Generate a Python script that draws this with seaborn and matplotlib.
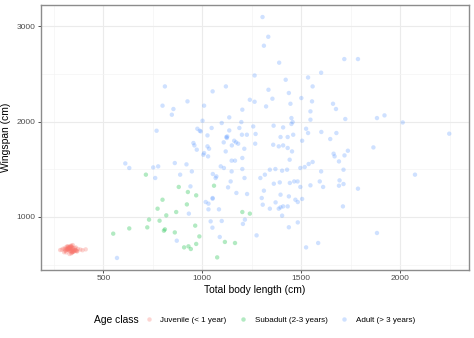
import numpy as np
import pandas as pd
import matplotlib
matplotlib.use("Agg")
import matplotlib.pyplot as plt
from matplotlib.lines import Line2D
from matplotlib.ticker import MultipleLocator
import seaborn as sns

# Age classes and their colours
classes = ["Juvenile (< 1 year)", "Subadult (2-3 years)", "Adult (> 3 years)"]
class_colors = ["#F8766D", "#00BA38", "#619CFF"]

# Juveniles: total body length (cm) and wingspan (cm)
juv_length = [335, 312, 348, 327, 361, 340, 298, 322, 355, 331, 344, 318, 372, 306, 337,
              350, 325, 341, 290, 366, 333, 314, 347, 328, 358, 339, 302, 321, 384, 336,
              343, 317, 352, 329, 309, 363, 338, 324, 346, 282, 331, 356, 320, 341, 395,
              313, 334, 349, 327, 368, 305, 339, 323, 345, 332, 316, 360, 337, 411, 329]
juv_wingspan = [662, 648, 671, 655, 680, 640, 668, 690, 652, 675, 633, 659, 664, 645, 686,
                650, 670, 625, 657, 642, 695, 661, 638, 677, 654, 666, 630, 683, 658, 644,
                672, 692, 636, 663, 679, 649, 618, 667, 705, 653, 641, 674, 660, 688, 651,
                628, 669, 646, 684, 639, 663, 700, 656, 632, 676, 665, 647, 687, 660, 612]

# Subadults
sub_length = [715, 881, 927, 969, 799, 922, 774, 868, 818, 731, 784, 550, 631, 722, 811,
              806, 861, 964, 985, 969, 908, 930, 942, 1059, 1202, 1240, 1114, 1165, 1075]
sub_wingspan = [1444, 1315, 1262, 1227, 1181, 1132, 1087, 1052, 1017, 972, 961, 825, 880, 891, 870,
                856, 838, 909, 796, 717, 681, 692, 664, 1328, 1052, 1035, 738, 727, 576]

# Adults
adult_length = [
    769, 955, 960, 972, 1005, 611, 631, 752, 777, 861, 920, 762, 888, 947, 940, 932, 871, 569,
    1017, 1031, 1031, 1084, 1052, 1042, 1098, 1051, 1088,
    1304, 1333, 1311, 1388, 1264, 1119, 1052, 1334, 1421, 1437, 1354, 1445, 1009, 1240, 1264,
    1322, 1202, 1136, 1001, 1098, 1197, 1257, 1360, 1408, 1450, 1456, 1047, 1136, 1187, 1200,
    1225, 1269, 1026, 1121, 1395, 1431, 1459, 992,
    1026, 1009, 1029, 1108, 1124, 1161, 1170, 1149, 1212, 1267, 1202, 1148, 1165, 1358, 1386,
    1408, 1431, 1441, 1093, 1109, 1202, 1148, 1053, 1071, 1067, 1213, 1143, 1130, 1293, 1316,
    1341, 1369, 1403, 1428, 1361, 1391, 1442, 1311, 1395, 1437, 1172, 1226, 1052, 1300, 1305,
    1370, 1431, 1341, 1386, 1395, 1408, 1403, 1215, 1205, 1437, 1274,
    1717, 1786, 1600, 1534, 1557, 1500, 1554, 1660, 1675, 1546, 1546, 1722, 1882, 1920, 1450,
    1524, 1534, 1601, 1646, 1677,
    1504, 1453, 1663, 1668, 1718, 1735, 1690, 1864, 1495, 1517, 1537, 1557, 1600, 1713, 1464,
    1481, 1495, 1546, 1593, 1610, 1690, 1713, 1693, 1786, 1470, 1482, 1504, 1710, 1482, 1882,
    1585, 1524,
    2012, 2247, 2074,
    811, 799, 854, 846, 925, 975, 987, 1034, 1126, 1118, 1181]
adult_wingspan = [
    1905, 1776, 1751, 1706, 1653, 1562, 1514, 1520, 1531, 1566, 1552, 1409, 1444, 1478, 1321, 1035, 751, 570,
    1157, 1140, 1080, 1080, 1192, 954, 958, 888, 790,
    3098, 2891, 2797, 2619, 2485, 2370, 2318, 2335, 2440, 2301, 2241, 2188, 2168, 2230, 2209,
    2160, 2126, 2045, 2010, 1986, 1996, 1950, 1958, 1940, 2038, 1996, 1934, 1908, 1934, 1863,
    1863, 1871, 1856, 1839, 1839, 1839, 1863, 1898,
    1741, 1671, 1636, 1783, 1829, 1800, 1783, 1751, 1716, 1769, 1619, 1591, 1591, 1758, 1741,
    1751, 1724, 1601, 1531, 1514, 1503, 1478, 1451, 1426, 1409, 1409, 1373, 1311, 1409, 1444,
    1496, 1503, 1486, 1496, 1349, 1363, 1357, 1276, 1234, 1216, 1252, 1241, 1199, 1199, 1129,
    1153, 1111, 1087, 1087, 1101, 1111, 1014, 972, 927, 892, 807,
    2657, 2657, 2514, 2464, 2370, 2248, 2213, 2188, 2133, 2108, 2021, 2028, 2038, 2066, 1976,
    1926, 1881, 1892, 1818, 1881,
    1800, 1688, 1664, 1636, 1646, 1695, 1583, 1730, 1514, 1524, 1556, 1577, 1478, 1496, 1373,
    1373, 1315, 1332, 1373, 1315, 1328, 1346, 1384, 1297, 1181, 1157, 1189, 1111, 943, 832,
    727, 681,
    1992, 1874, 1444,
    2370, 2168, 2133, 2073, 2213, 1926, 1905, 1716, 1845, 1688, 1769]

df = pd.concat([
    pd.DataFrame({"length": juv_length, "wingspan": juv_wingspan, "age": classes[0]}),
    pd.DataFrame({"length": sub_length, "wingspan": sub_wingspan, "age": classes[1]}),
    pd.DataFrame({"length": adult_length, "wingspan": adult_wingspan, "age": classes[2]}),
], ignore_index=True)

W, H, DPI = 474, 338, 100
fig = plt.figure(figsize=(W / DPI, H / DPI), dpi=DPI)
fig.patch.set_facecolor("white")
ax = fig.add_axes([40.7 / W, 1 - 270 / H, (468.7 - 40.7) / W, (270 - 5) / H])

palette = dict(zip(classes, class_colors))
sns.scatterplot(data=df, x="length", y="wingspan", hue="age", hue_order=classes,
                palette=palette, alpha=0.3, s=10, linewidth=0, legend=False, ax=ax, zorder=3)

# ggplot-style 5% expansion of the data range
def expanded(v):
    lo, hi = min(v), max(v)
    pad = 0.05 * (hi - lo)
    return lo - pad, hi + pad

ax.set_xlim(*expanded(df["length"]))
ax.set_ylim(*expanded(df["wingspan"]))

ax.xaxis.set_major_locator(MultipleLocator(500))
ax.xaxis.set_minor_locator(MultipleLocator(250))
ax.yaxis.set_major_locator(MultipleLocator(1000))
ax.yaxis.set_minor_locator(MultipleLocator(500))
ax.set_axisbelow(True)
ax.grid(which="major", color="#EBEBEB", linewidth=0.8)
ax.grid(which="minor", color="#F4F4F4", linewidth=0.5)
ax.set_facecolor("white")
for sp in ax.spines.values():
    sp.set_color("#8C8C8C")
    sp.set_linewidth(1.0)

ax.tick_params(which="major", length=2.2, width=0.6, color="#333333",
               labelsize=6.0, labelcolor="#4D4D4D", pad=1.5)
ax.tick_params(which="minor", length=0)

font = "Liberation Sans"
for lab in ax.get_xticklabels() + ax.get_yticklabels():
    lab.set_family(font)

ax.set_xlabel("Total body length (cm)", fontsize=7.4, family=font, labelpad=2)
ax.set_ylabel("Wingspan (cm)", fontsize=7.4, family=font, labelpad=4)

# Legend along the bottom, title to the left of the keys
handles = [Line2D([0], [0], marker="o", linestyle="none", markersize=3.2,
                  markerfacecolor=c, markeredgewidth=0, alpha=0.3) for c in class_colors]
fig.text(94 / W, 1 - 320 / H, "Age class", fontsize=7.4, family=font, va="center", ha="left")
leg = fig.legend(handles, classes, loc="center left", bbox_to_anchor=(144 / W, 1 - 320 / H),
                 ncol=3, frameon=False, prop={"family": font, "size": 5.8},
                 handlelength=1.2, handletextpad=0.8, columnspacing=1.5, borderaxespad=0,
                 borderpad=0)

fig.savefig("out.png", dpi=DPI, facecolor="white")
